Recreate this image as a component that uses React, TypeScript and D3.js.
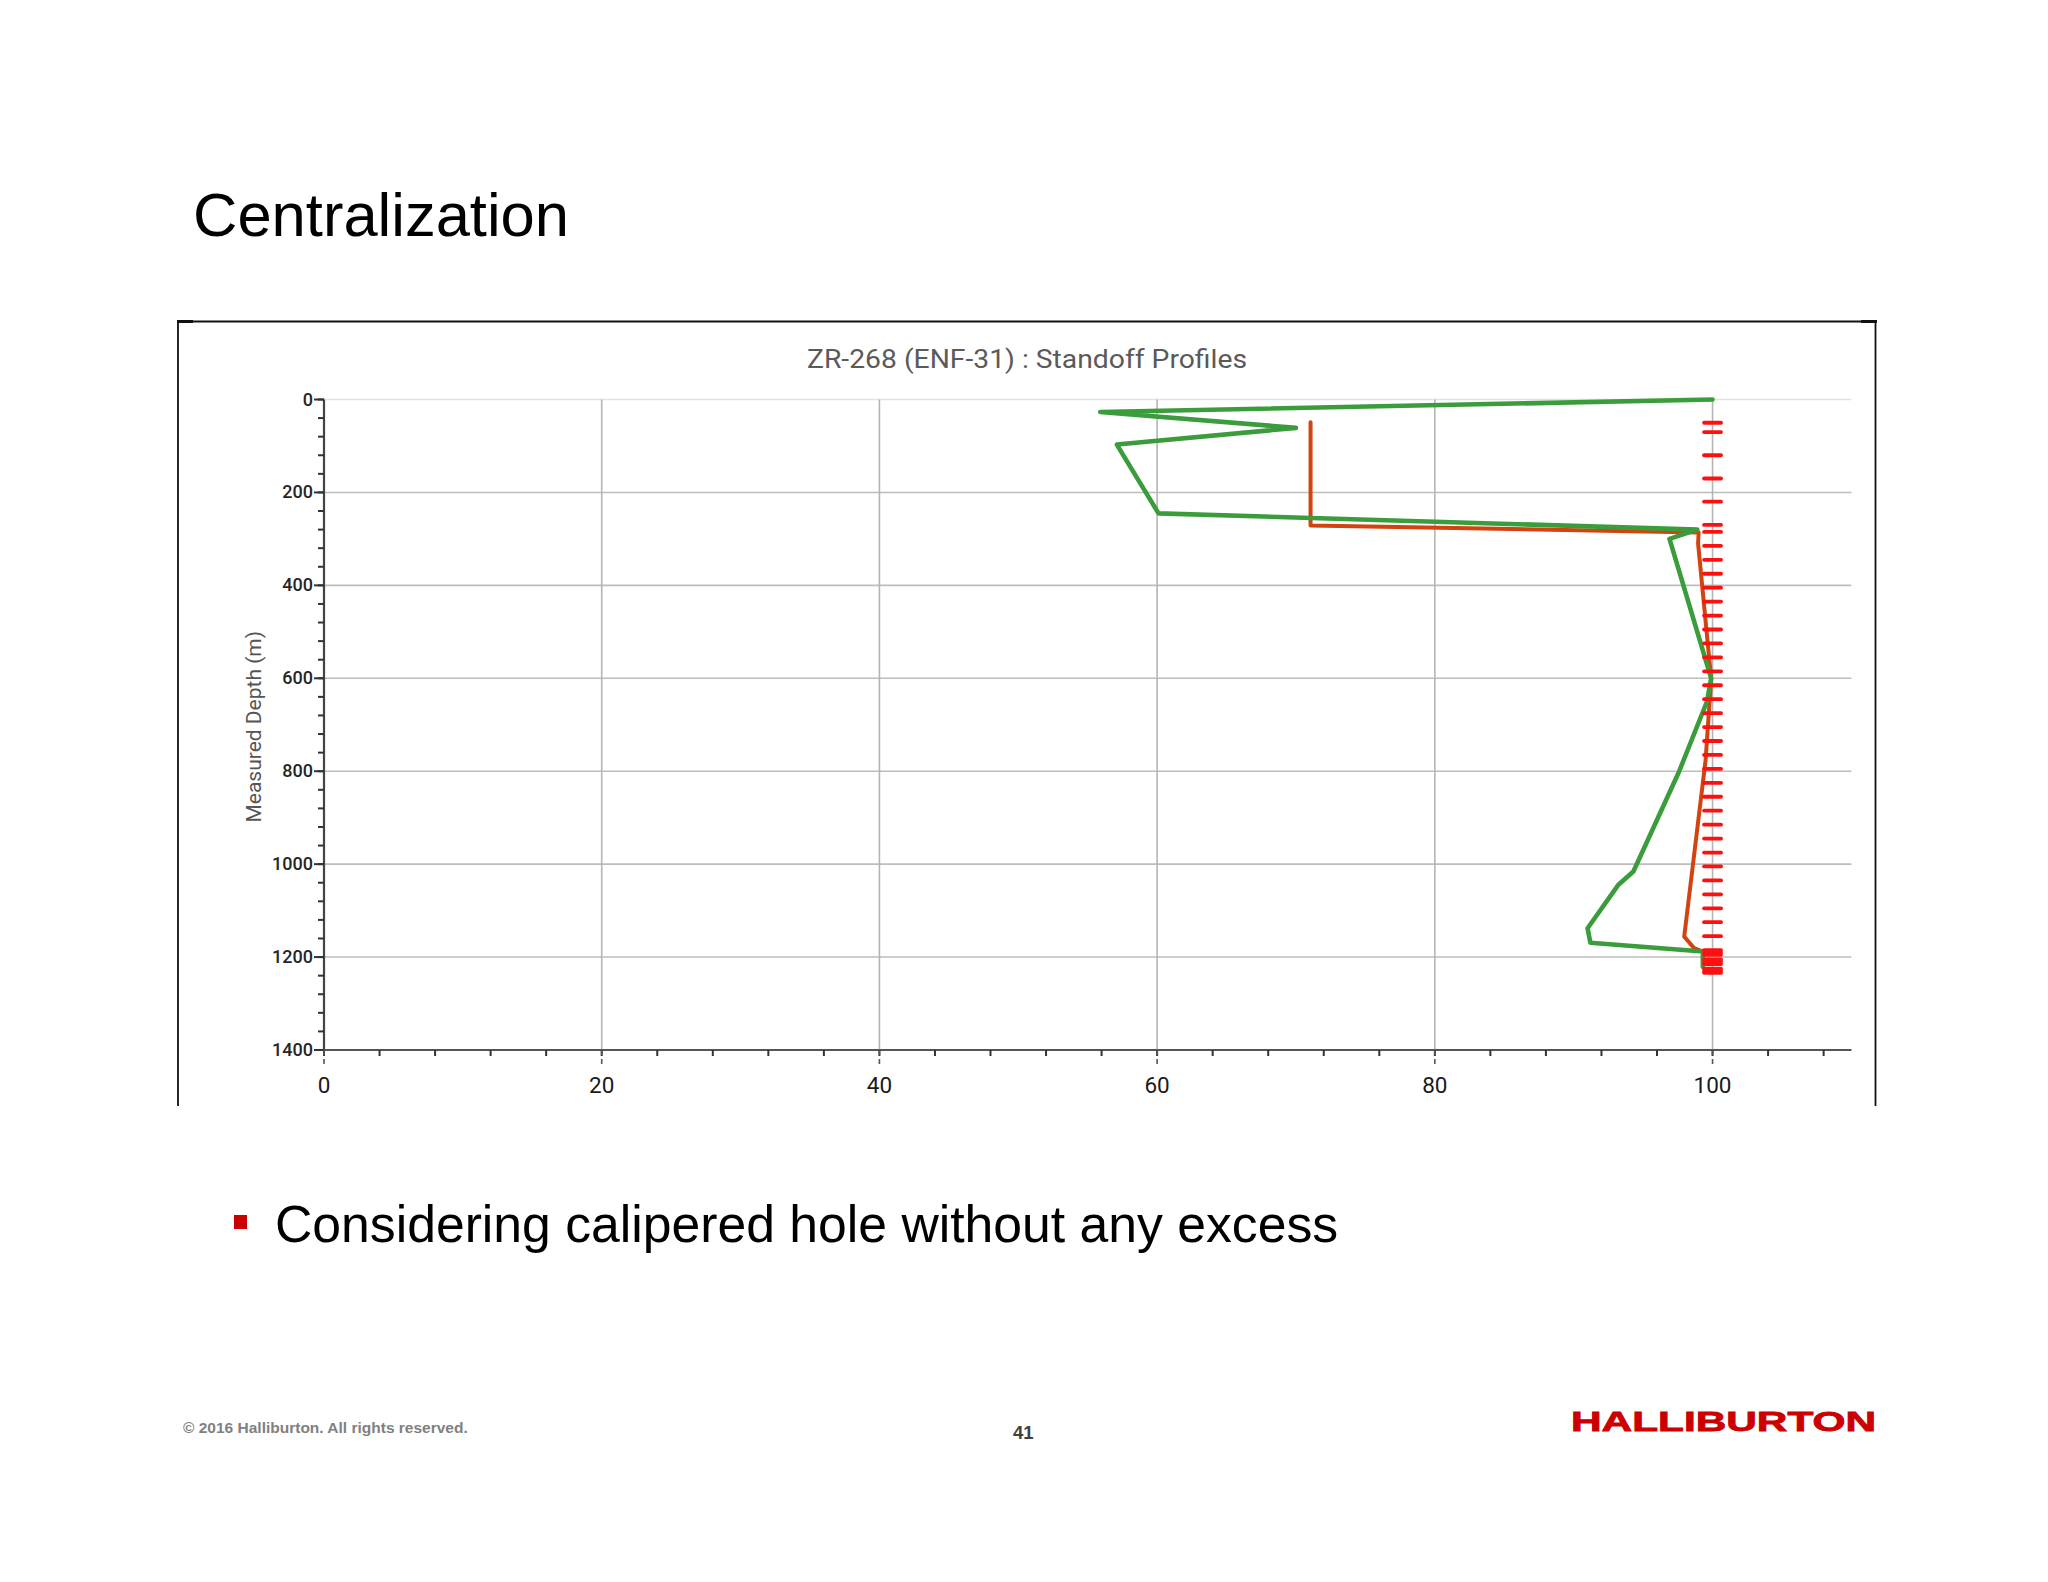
import * as d3 from 'd3'

// depth (m) / standoff (%)
const greenDepth = [0, 27, 61, 97, 245, 280, 300, 600, 650, 800, 1016, 1045, 1138, 1169, 1188, 1221]
const greenStandoff = [100, 55.9, 70.0, 57.1, 60.1, 98.9, 96.9, 99.9, 99.6, 97.6, 94.3, 93.2, 91.0, 91.2, 99.3, 99.3]

const redDepth = [49, 271, 286, 310, 601, 776, 1156, 1181, 1188]
const redStandoff = [71.05, 71.05, 99.0, 98.96, 99.9, 99.5, 97.96, 98.68, 99.3]

// centralizer positions (m), drawn at 100 %
const centralizerDepth = [
    50, 70, 120, 170, 220, 270, 285, 315, 345, 375, 405, 435, 465, 495, 525, 555,
    585, 615, 645, 675, 705, 735, 765, 795, 825, 855, 885, 915, 945, 975, 1005,
    1035, 1065, 1095, 1125, 1155, 1185, 1190, 1195, 1205, 1210, 1215, 1225, 1230, 1234
]

const depthTicks = [0, 200, 400, 600, 800, 1000, 1200, 1400]
const standoffTicks = [0, 20, 40, 60, 80, 100]

const W = 2048
const H = 1582

const x = d3.scaleLinear().domain([0, 110]).range([324, 1851.4])
const y = d3.scaleLinear().domain([0, 1400]).range([399.5, 1050])

const line = d3.line<[number, number]>()
    .x(d => x(d[0]))
    .y(d => y(d[1]))

const chartFont = 'Roboto, "Open Sans", sans-serif'
const slideFont = '"Liberation Sans", Arial, sans-serif'

const Grid = () => {
    return (
        <g>
            {depthTicks.map(t => (
                <line key={'h' + t} x1={x(0)} x2={x(110)} y1={y(t)} y2={y(t)}
                    stroke={t === 0 ? '#e2e2e2' : '#bdbdbd'} strokeWidth={1.6} />
            ))}
            {standoffTicks.filter(t => t > 0).map(t => (
                <line key={'v' + t} x1={x(t)} x2={x(t)} y1={y(0)} y2={y(1400)}
                    stroke="#b5b5b5" strokeWidth={1.6} />
            ))}
        </g>
    )
}

const YAxis = () => {
    const minor = d3.range(0, 1401, 40)
    return (
        <g>
            <line x1={x(0)} x2={x(0)} y1={y(0)} y2={y(1400)} stroke="#444" strokeWidth={2.2} />
            {minor.map(t => (
                <line key={t} x1={x(0) - 6} x2={x(0)} y1={y(t)} y2={y(t)} stroke="#333" strokeWidth={2} />
            ))}
            {depthTicks.map(t => (
                <g key={'l' + t}>
                    <line x1={x(0) - 10} x2={x(0)} y1={y(t)} y2={y(t)} stroke="#333" strokeWidth={2} />
                    <text x={x(0) - 11} y={y(t) + 6} textAnchor="end" fontFamily={chartFont}
                        fontSize={18} fontWeight={500} fill="#262626">{t}</text>
                </g>
            ))}
            <text transform={`translate(261,${(y(0) + y(1400)) / 2 + 2}) rotate(-90)`} textAnchor="middle"
                fontFamily={chartFont} fontSize={21} fill="#555">Measured Depth (m)</text>
        </g>
    )
}

const XAxis = () => {
    const minor = d3.range(0, 109, 4)
    const base = y(1400)
    return (
        <g>
            <line x1={x(0)} x2={x(110)} y1={base} y2={base} stroke="#555" strokeWidth={2.2} />
            {minor.map(t => (
                <line key={t} x1={x(t)} x2={x(t)} y1={base} y2={base + 6} stroke="#333" strokeWidth={2} />
            ))}
            {standoffTicks.map(t => (
                <g key={'l' + t}>
                    <line x1={x(t)} x2={x(t)} y1={base} y2={base + 17} stroke="#555"
                        strokeWidth={1.6} strokeDasharray="5,4" />
                    <text x={x(t)} y={base + 43} textAnchor="middle" fontFamily={chartFont}
                        fontSize={22.5} fill="#1a1a1a">{t}</text>
                </g>
            ))}
        </g>
    )
}

const Series = () => {
    const green = greenDepth.map((d, i) => [greenStandoff[i], d] as [number, number])
    const red = redDepth.map((d, i) => [redStandoff[i], d] as [number, number])
    return (
        <g fill="none" strokeLinejoin="round" strokeLinecap="round">
            <path d={line(red) || ''} stroke="#d2430f" strokeWidth={4} />
            <path d={line(green) || ''} stroke="#3b9c3b" strokeWidth={4.6} />
            {centralizerDepth.map((d, i) => (
                <line key={i} x1={x(100) - 8.5} x2={x(100) + 8.5} y1={y(d)} y2={y(d)}
                    stroke="#ff1010" strokeWidth={3.8} />
            ))}
        </g>
    )
}

const Frame = () => (
    <g stroke="#111" fill="none">
        <path d="M178,1106 V321.5 H1875.5 V1106" strokeWidth={1.8} />
        <line x1={177} x2={193} y1={321.5} y2={321.5} strokeWidth={3} />
        <line x1={1861} x2={1877} y1={321.5} y2={321.5} strokeWidth={3} />
    </g>
)

export default function App() {
    return (
        <svg width={W} height={H} style={{ position: 'absolute', left: 0, top: 0, background: '#fff' }}>
            <rect width={W} height={H} fill="#fff" />
            <text x={193} y={236} fontFamily={slideFont} fontSize={61.5} fill="#000">Centralization</text>

            <Frame />
            <text x={1027} y={368} textAnchor="middle" fontFamily={chartFont} fontSize={26}
                fill="#5a5a5a" textLength={440} lengthAdjust="spacingAndGlyphs">
                ZR-268 (ENF-31) : Standoff Profiles
            </text>
            <Grid />
            <Series />
            <YAxis />
            <XAxis />

            <rect x={234} y={1215} width={13} height={14} fill="#cc0000" />
            <text x={275} y={1242} fontFamily={slideFont} fontSize={51.7} fill="#000">
                Considering calipered hole without any excess
            </text>

            <text x={183} y={1433} fontFamily={slideFont} fontWeight="bold" fontSize={15.5} fill="#808080">
                © 2016 Halliburton. All rights reserved.
            </text>
            <text x={1013} y={1439} fontFamily={slideFont} fontWeight="bold" fontSize={18.5} fill="#404040">41</text>
            <text x={1571} y={1430.5} fontFamily={slideFont} fontWeight="bold" fontSize={27} fill="#cc0000"
                stroke="#cc0000" strokeWidth={0.8}
                textLength={305} lengthAdjust="spacingAndGlyphs">HALLIBURTON</text>
        </svg>
    )
}
